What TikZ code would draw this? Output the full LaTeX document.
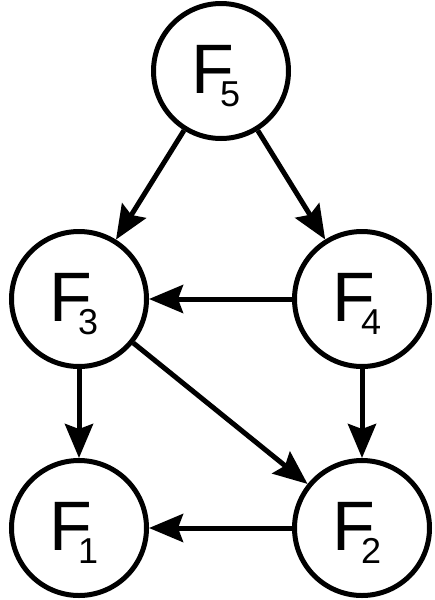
\documentclass[tikz,border=0pt]{standalone}
\usepackage{fontspec}
\setmainfont{Liberation Sans}
\usetikzlibrary{arrows.meta}
\newcommand{\flabel}[1]{\raisebox{-22pt}[0pt][0pt]{\fontsize{70}{70}\selectfont F\kern-14.5pt\raisebox{-13pt}{\fontsize{36}{36}\selectfont #1}}\kern10pt}
\begin{document}
\begin{tikzpicture}[x=1pt,y=-1pt,
  fnode/.style={circle,draw=black,line width=5pt,minimum size=135pt,inner sep=0pt,fill=white},
  conn/.style={line width=5pt,-{Stealth[length=34pt,width=28pt,inset=5pt]}}]
\useasboundingbox (0,0) rectangle (435,600);
\node[fnode] (f5) at (221,71) {\flabel{5}};
\node[fnode] (f3) at (79,299) {\flabel{3}};
\node[fnode] (f4) at (362,299) {\flabel{4}};
\node[fnode] (f1) at (79,528) {\flabel{1}};
\node[fnode] (f2) at (362,528) {\flabel{2}};
\draw[conn] (f5) -- (f3);
\draw[conn] (f5) -- (f4);
\draw[conn] (f4) -- (f3);
\draw[conn] (f3) -- (f1);
\draw[conn] (f4) -- (f2);
\draw[conn] (f3) -- (f2);
\draw[conn] (f2) -- (f1);
\end{tikzpicture}
\end{document}
